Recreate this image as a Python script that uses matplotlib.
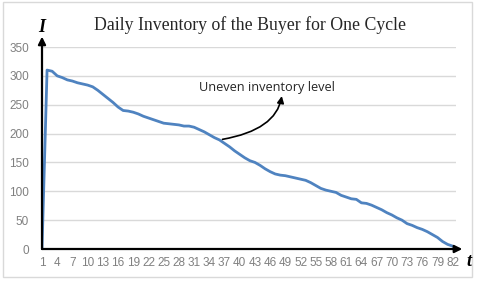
import matplotlib
matplotlib.use("Agg")
import matplotlib.pyplot as plt
from matplotlib.patches import Rectangle

title = "Daily Inventory of the Buyer for One Cycle"
annotation_text = "Uneven inventory level"
days = list(range(1, 83))
inventory = [
    0, 310, 308, 300, 297, 293, 291, 288, 286, 284,
    281, 275, 268, 261, 254, 246, 240, 239, 237, 234,
    230, 227, 224, 221, 218, 217, 216, 215, 213, 213,
    211, 207, 203, 198, 193, 189, 183, 177, 170, 164,
    158, 153, 150, 145, 139, 134, 130, 128, 127, 125,
    123, 121, 119, 115, 110, 105, 102, 100, 98, 93,
    90, 87, 86, 80, 79, 76, 72, 68, 63, 59,
    54, 50, 44, 41, 37, 34, 30, 25, 20, 13,
    8, 5,
]
yticks = [0, 50, 100, 150, 200, 250, 300, 350]
xticks = days[::3]

W, H = 480, 281
fig = plt.figure(figsize=(W / 100, H / 100), dpi=100)
fig.patches.append(Rectangle((3 / W, 1 - 277 / H), 469 / W, 275 / H,
                             transform=fig.transFigure, fill=False,
                             edgecolor="#d9d9d9", lw=1))

ax = fig.add_axes([42 / W, 1 - 249 / H, (456 - 42) / W, (249 - 47) / H])
ax.plot(days, inventory, color="#4f83c0", lw=2, solid_joinstyle="round", zorder=3)
ax.set_xlim(1, 1 + (456 - 42) / 5.07)
ax.set_ylim(0, 350)
ax.set_yticks(yticks)
ax.set_xticks(xticks)
ax.set_xticklabels([str(d) for d in xticks])
ax.grid(axis="y", color="#d9d9d9", lw=1)
ax.set_axisbelow(True)
for s in ax.spines.values():
    s.set_visible(False)
ax.tick_params(length=0, labelsize=8.5, labelcolor="#808080")
for lab in ax.get_xticklabels() + ax.get_yticklabels():
    lab.set_family("Liberation Sans")
ax.tick_params(axis="y", pad=9.5)
ax.tick_params(axis="x", pad=6)

# axes with arrows
ax.annotate("", xy=(83.9, 0), xytext=(1, 0),
            arrowprops=dict(arrowstyle="-|>", lw=1.6, color="black", mutation_scale=11,
                            shrinkA=0, shrinkB=0), annotation_clip=False)
ax.annotate("", xy=(1, 368), xytext=(1, 0),
            arrowprops=dict(arrowstyle="-|>", lw=1.6, color="black", mutation_scale=11,
                            shrinkA=0, shrinkB=0), annotation_clip=False)

fig.text(42 / W, 1 - 27 / H, "I", family="Liberation Serif", weight="bold",
         style="italic", fontsize=13, ha="center", va="center")
fig.text(469 / W, 1 - 262 / H, "t", family="Liberation Serif", weight="bold",
         style="italic", fontsize=13, ha="center", va="center")
fig.text(250 / W, 1 - 25 / H, title, family="Liberation Serif", fontsize=12.8,
         ha="center", va="center", color="#262626")

ax.text(45.4, 280, annotation_text, fontsize=9.2, family="Open Sans",
        ha="center", va="center", color="#262626")
ax.annotate("", xy=(48.3, 265), xytext=(36.6, 190),
            arrowprops=dict(arrowstyle="-|>", lw=1.2, color="black", mutation_scale=10,
                            shrinkA=0, shrinkB=0,
                            connectionstyle="angle3,angleA=10,angleB=80"))

fig.savefig("out.png", dpi=100)
